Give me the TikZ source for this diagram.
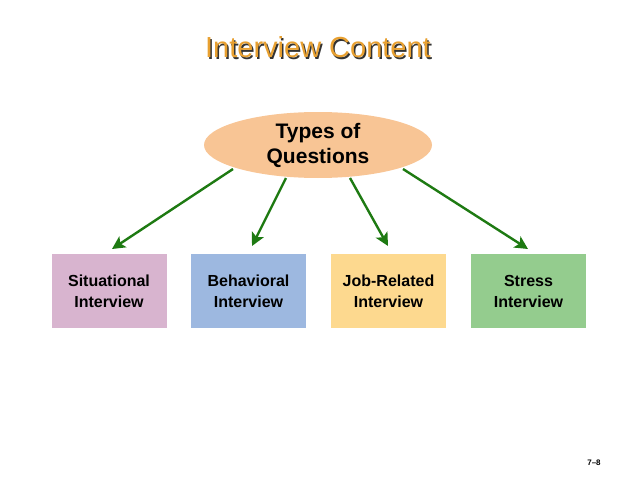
\documentclass[tikz,border=0pt]{standalone}
\usepackage{fontspec}
\setmainfont{Liberation Sans}
\usetikzlibrary{arrows.meta,shapes.geometric}
\definecolor{ell}{HTML}{F8C595}
\definecolor{pk}{HTML}{D8B4CF}
\definecolor{bl}{HTML}{9DB8E0}
\definecolor{yl}{HTML}{FDD98F}
\definecolor{gr}{HTML}{94CC8E}
\definecolor{ttl}{HTML}{E8A030}
\definecolor{arr}{HTML}{1E7A12}
\begin{document}
\begin{tikzpicture}[x=1pt,y=-1pt,
 boxs/.style={minimum width=115pt,minimum height=74pt,inner sep=0pt,align=center,font=\fontsize{16}{21}\selectfont\bfseries},
 con/.style={draw=arr,line width=2.4pt,-{Stealth[inset=3pt,length=13pt,width=13pt]}}]
\useasboundingbox (0,0) rectangle (638,479);
\node[font=\fontsize{29}{33}\selectfont] (t) at (318,48) {\rlap{\hspace{1.5pt}\raisebox{-1.5pt}{\textcolor{black!80}{Interview Content}}}\textcolor{ttl}{Interview Content}};
\node[ellipse,fill=ell,minimum width=228pt,minimum height=66pt,inner sep=0pt,align=center,font=\fontsize{21}{25}\selectfont\bfseries] (e) at (318,145) {Types of\\Questions};
\node[boxs,fill=pk] (a) at (109,291) {Situational\\Interview};
\node[boxs,fill=bl] (b) at (248.5,291) {Behavioral\\Interview};
\node[boxs,fill=yl] (c) at (388.5,291) {Job-Related\\Interview};
\node[boxs,fill=gr] (d) at (528.5,291) {Stress\\Interview};
\coordinate (a1) at (233,169); \coordinate (a2) at (112,249);
\coordinate (b1) at (286,178); \coordinate (b2) at (252,246);
\coordinate (c1) at (350,178); \coordinate (c2) at (388,246);
\coordinate (d1) at (403,169); \coordinate (d2) at (528,249);
\draw[con] (a1) -- (a2);
\draw[con] (b1) -- (b2);
\draw[con] (c1) -- (c2);
\draw[con] (d1) -- (d2);
\node[font=\fontsize{8}{9}\selectfont\bfseries] (n) at (594,463) {7--8};
\end{tikzpicture}
\end{document}
